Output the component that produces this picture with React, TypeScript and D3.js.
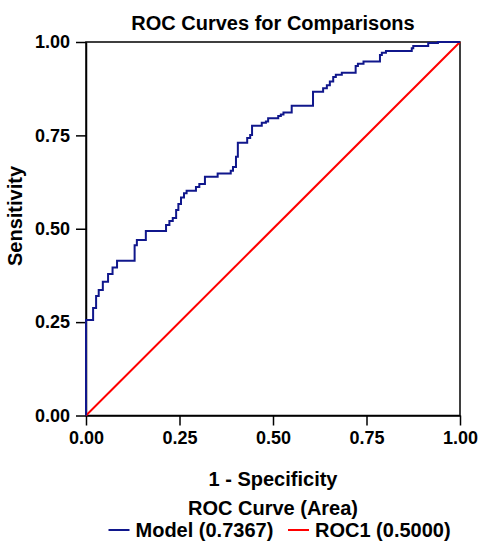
import React, { useEffect, useRef } from 'react';
import * as d3 from 'd3';

// ROC step points for the fitted model
const modelFpr = [
  0, 0, 0.019, 0.027, 0.034, 0.045, 0.059, 0.071, 0.083, 0.130, 0.136, 0.160,
  0.214, 0.223, 0.232, 0.241, 0.247, 0.254, 0.262, 0.269, 0.294, 0.303, 0.318,
  0.352, 0.387, 0.393, 0.401, 0.406, 0.431, 0.439, 0.444, 0.470, 0.481, 0.487,
  0.514, 0.521, 0.528, 0.550, 0.607, 0.634, 0.644, 0.652, 0.661, 0.668, 0.684,
  0.721, 0.727, 0.742, 0.786, 0.791, 0.802, 0.871, 0.875, 0.915, 0.941, 1.0,
];
const modelTpr = [
  0, 0.256, 0.288, 0.320, 0.336, 0.358, 0.379, 0.396, 0.414, 0.456, 0.470, 0.494,
  0.510, 0.521, 0.529, 0.550, 0.566, 0.584, 0.595, 0.602, 0.612, 0.620, 0.639,
  0.648, 0.655, 0.665, 0.693, 0.730, 0.743, 0.751, 0.776, 0.784, 0.787, 0.796,
  0.802, 0.806, 0.811, 0.829, 0.867, 0.876, 0.884, 0.894, 0.906, 0.912, 0.918,
  0.936, 0.942, 0.948, 0.965, 0.971, 0.976, 0.983, 0.989, 0.997, 1.0, 1.0,
];

// chance line
const refFpr = [0, 1];
const refTpr = [0, 1];

const tickValues = [0, 0.25, 0.5, 0.75, 1];
const seriesNames = ['Model (0.7367)', 'ROC1 (0.5000)'];
const seriesColors = ['#10178c', '#ff0000'];

const FONT = '"Liberation Sans", Arial, sans-serif';

const App: React.FC = () => {
  const svgRef = useRef<SVGSVGElement>(null);

  useEffect(() => {
    if (!svgRef.current) return;
    const svg = d3.select(svgRef.current);
    svg.selectAll('*').remove();

    const width = 483;
    const height = 550;
    const margin = { top: 42, right: 23, bottom: 134.5, left: 86 };
    const innerWidth = width - margin.left - margin.right;
    const innerHeight = height - margin.top - margin.bottom;

    const xScale = d3.scaleLinear().domain([0, 1]).range([0, innerWidth]);
    const yScale = d3.scaleLinear().domain([0, 1]).range([innerHeight, 0]);

    const g = svg.append('g')
      .attr('transform', `translate(${margin.left}, ${margin.top})`);

    // Title
    svg.append('text')
      .attr('x', margin.left + innerWidth / 2)
      .attr('y', 29.5)
      .attr('text-anchor', 'middle')
      .attr('font-family', FONT)
      .attr('font-weight', 'bold')
      .attr('font-size', '20px')
      .text('ROC Curves for Comparisons');

    // Frame (top + right)
    g.append('rect')
      .attr('x', 0)
      .attr('y', 0)
      .attr('width', innerWidth)
      .attr('height', innerHeight)
      .attr('fill', 'none')
      .attr('stroke', '#000')
      .attr('stroke-width', 1.5);

    // X axis
    g.append('g')
      .attr('transform', `translate(0, ${innerHeight})`)
      .call(d3.axisBottom(xScale).tickValues(tickValues).tickFormat(d3.format('.2f')).tickSize(10).tickPadding(6).tickSizeOuter(0))
      .call(s => s.select('.domain').attr('stroke', '#000').attr('stroke-width', 1.5))
      .call(s => s.selectAll('.tick line').attr('stroke', '#000').attr('stroke-width', 1.5))
      .call(s => s.selectAll('.tick text')
        .attr('fill', '#000')
        .attr('font-family', FONT)
        .attr('font-weight', 'bold')
        .attr('font-size', '18px')
        .attr('dy', '0.71em'));

    // Y axis
    g.append('g')
      .call(d3.axisLeft(yScale).tickValues(tickValues).tickFormat(d3.format('.2f')).tickSize(10).tickPadding(6).tickSizeOuter(0))
      .call(s => s.select('.domain').attr('stroke', '#000').attr('stroke-width', 1.5))
      .call(s => s.selectAll('.tick line').attr('stroke', '#000').attr('stroke-width', 1.5))
      .call(s => s.selectAll('.tick text')
        .attr('fill', '#000')
        .attr('font-family', FONT)
        .attr('font-weight', 'bold')
        .attr('font-size', '18px'));

    // Axis labels
    svg.append('text')
      .attr('x', margin.left + innerWidth / 2)
      .attr('y', 485.5)
      .attr('text-anchor', 'middle')
      .attr('font-family', FONT)
      .attr('font-weight', 'bold')
      .attr('font-size', '20px')
      .text('1 - Specificity');

    svg.append('text')
      .attr('transform', 'translate(21.5, 216) rotate(-90)')
      .attr('text-anchor', 'middle')
      .attr('font-family', FONT)
      .attr('font-weight', 'bold')
      .attr('font-size', '20px')
      .text('Sensitivity');

    // Curves
    const modelData = modelFpr.map((f, i) => ({ fpr: f, tpr: modelTpr[i] }));
    const refData = refFpr.map((f, i) => ({ fpr: f, tpr: refTpr[i] }));

    const stepLine = d3.line<{ fpr: number; tpr: number }>()
      .x(d => xScale(d.fpr))
      .y(d => yScale(d.tpr))
      .curve(d3.curveStepAfter);

    const straightLine = d3.line<{ fpr: number; tpr: number }>()
      .x(d => xScale(d.fpr))
      .y(d => yScale(d.tpr));

    g.append('path')
      .datum(refData)
      .attr('fill', 'none')
      .attr('stroke', seriesColors[1])
      .attr('stroke-width', 2)
      .attr('d', straightLine);

    g.append('path')
      .datum(modelData)
      .attr('fill', 'none')
      .attr('stroke', seriesColors[0])
      .attr('stroke-width', 2)
      .attr('d', stepLine);

    // Legend
    svg.append('text')
      .attr('x', margin.left + innerWidth / 2)
      .attr('y', 515)
      .attr('text-anchor', 'middle')
      .attr('font-family', FONT)
      .attr('font-weight', 'bold')
      .attr('font-size', '20px')
      .text('ROC Curve (Area)');

    const legendX = [108.5, 288];
    const legend = svg.append('g').attr('class', 'legend');
    seriesNames.forEach((name, i) => {
      legend.append('line')
        .attr('x1', legendX[i])
        .attr('x2', legendX[i] + 21)
        .attr('y1', 530)
        .attr('y2', 530)
        .attr('stroke', seriesColors[i])
        .attr('stroke-width', 2);
      legend.append('text')
        .attr('x', legendX[i] + 27)
        .attr('y', 536.7)
        .attr('font-family', FONT)
        .attr('font-weight', 'bold')
        .attr('font-size', '20px')
        .text(name);
    });
  }, []);

  return (
    <svg
      ref={svgRef}
      width={483}
      height={550}
      style={{ position: 'absolute', left: 0, top: 0, background: '#fff' }}
    />
  );
};

export default App;
